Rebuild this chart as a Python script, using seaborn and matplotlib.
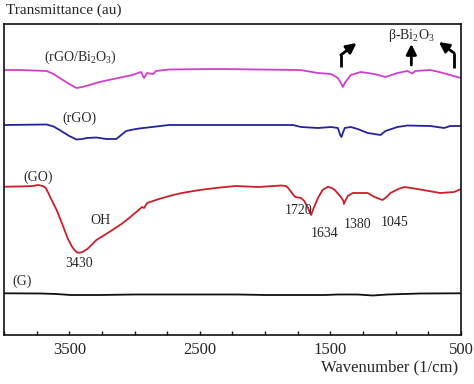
import numpy as np
import pandas as pd
import matplotlib
matplotlib.use("Agg")
import matplotlib.pyplot as plt
import seaborn as sns
from matplotlib.ticker import MultipleLocator, FixedLocator

# spectra (wavenumber, arbitrary transmittance)
wn_g = [4000, 3719, 3600, 3490, 3262, 3010, 2204, 1999, 1542, 1443, 1291, 1177, 1063, 812, 500]
t_g = [41.7, 41.5, 41.0, 40.0, 40.0, 40.5, 40.5, 40.0, 40.0, 40.5, 40.5, 39.5, 40.5, 41.5, 41.7]

wn_go = [4000, 3878, 3779, 3741, 3703, 3680, 3660, 3635, 3597, 3551, 3510, 3482, 3460,
         3440, 3420, 3400, 3380, 3361, 3330, 3292, 3230, 3170, 3100, 3041, 2942, 2927,
         2904, 2813, 2720, 2638, 2500, 2379, 2227, 2052, 1877, 1840, 1824, 1800, 1770,
         1745, 1725, 1700, 1671, 1648, 1625, 1595, 1560, 1519, 1490, 1466, 1420, 1400,
         1397, 1390, 1367, 1329, 1215, 1162, 1101, 1070, 1040, 980, 933, 834, 659, 553, 500]
t_go = [148.3, 148.5, 149, 150, 149, 147, 142, 135, 125, 110, 96, 89, 85,
        82.5, 82.3, 83, 84.5, 86, 90, 95, 100, 105, 111, 117, 128, 127,
        132, 136, 139.5, 142, 145, 147, 149, 148, 149.5, 149, 147, 143, 138,
        137.5, 137, 134, 127, 120, 128, 137, 145, 148.3, 147, 145, 138, 134,
        131, 133, 139, 142, 142, 138, 135, 138, 142, 146, 148, 146, 142, 143, 146]

wn_rgo = [4000, 3673, 3620, 3574, 3500, 3444, 3400, 3368, 3292, 3216, 3140, 3102, 3064,
          3010, 2965, 2866, 2737, 1786, 1725, 1595, 1496, 1443, 1425, 1415, 1405, 1390,
          1344, 1291, 1215, 1162, 1116, 1078, 987, 910, 735, 629, 583, 500]
t_rgo = [210, 210.5, 208.5, 205, 199, 195.5, 196, 197, 197.5, 196, 196, 200, 204,
         205.5, 206.5, 208, 210, 210, 208, 207, 208, 207, 200, 198, 202, 207,
         208, 206, 202, 201, 200, 204, 208, 209.5, 209, 207, 209, 209]

wn_bi = [4000, 3878, 3673, 3620, 3574, 3500, 3444, 3400, 3345, 3269, 3018, 2950, 2927,
         2904, 2858, 2836, 2737, 2356, 2052, 1732, 1595, 1496, 1443, 1420, 1405, 1390,
         1367, 1344, 1268, 1162, 1078, 987, 910, 872, 850, 735, 667, 583, 500]
t_bi = [265, 265, 264, 261, 257, 251, 247, 248, 250, 253, 260, 263, 257,
        262, 261, 264, 265.5, 266, 265.5, 265, 262, 261, 257, 252, 248, 252,
        256, 260, 263, 261, 258, 262, 264, 261.5, 264, 265, 263, 260, 257]

names = ["(G)", "(GO)", "(rGO)", "(rGO/Bi2O3)"]
colors = ["#111111", "#C8202A", "#23239E", "#CF3FCF"]

df = pd.concat([
    pd.DataFrame({"wn": wn_g, "t": t_g, "sample": names[0]}),
    pd.DataFrame({"wn": wn_go, "t": t_go, "sample": names[1]}),
    pd.DataFrame({"wn": wn_rgo, "t": t_rgo, "sample": names[2]}),
    pd.DataFrame({"wn": wn_bi, "t": t_bi, "sample": names[3]}),
])

sns.set_style("ticks")
plt.rcParams["font.family"] = ["Liberation Serif", "DejaVu Serif"]
plt.rcParams["mathtext.fontset"] = "custom"
plt.rcParams["mathtext.rm"] = "Liberation Serif"
plt.rcParams["mathtext.it"] = "Liberation Serif:italic"

fig = plt.figure(figsize=(4.74, 3.84), dpi=100)
ax = fig.add_axes([0.0084, 0.1276, 0.9641, 0.8099])

sns.lineplot(data=df, x="wn", y="t", hue="sample", palette=dict(zip(names, colors)),
             sort=False, estimator=None, linewidth=1.3, legend=False, ax=ax)

ax.set_xlim(4000, 500)
ax.set_ylim(0, 311)
ax.set_xlabel("")
ax.set_ylabel("")
ax.set_yticks([])
ax.xaxis.set_major_locator(FixedLocator([3500, 2500, 1500, 500]))
ax.xaxis.set_minor_locator(MultipleLocator(250))
ax.tick_params(axis="x", which="both", direction="in", length=3, width=1,
               labelsize=12, pad=5, color="#111111")
for s in ax.spines.values():
    s.set_linewidth(1.2)
    s.set_color("#111111")

fig.text(0.012, 0.974, "Transmittance (au)", fontsize=11, ha="left", va="center")
fig.text(0.966, 0.042, "Wavenumber (1/cm)", fontsize=12, ha="right", va="center")

# curve labels
lab = dict(fontsize=10, ha="center", va="center")
ax.text(3417, 278, "(rGO/Bi$_2$O$_3$)", **lab)
ax.text(3422, 217, "(rGO)", **lab)
ax.text(3741, 158, "(GO)", **lab)
ax.text(3863, 54, "(G)", **lab)
ax.text(3262, 115, "OH", **lab)
ax.text(3422, 72, "3430", **lab)
ax.text(1740, 125, "1720", **lab)
ax.text(1542, 102, "1634", **lab)
ax.text(1291, 111, "1380", **lab)
ax.text(1010, 113, "1045", **lab)
ax.text(880, 300, "β-Bi$_2$O$_3$", **lab)

# beta-Bi2O3 marker arrows
arrow = dict(arrowstyle="-|>,head_length=0.6,head_width=0.3", color="black", lw=2,
             shrinkA=0, shrinkB=0)
ax.plot([1420, 1420], [268, 280], color="black", lw=2, solid_capstyle="butt")
ax.annotate("", xy=(1300, 292), xytext=(1420, 280), arrowprops=arrow)
ax.annotate("", xy=(880, 291), xytext=(880, 270), arrowprops=arrow)
ax.plot([553, 553], [267, 282], color="black", lw=2, solid_capstyle="butt")
ax.annotate("", xy=(670, 293), xytext=(553, 282), arrowprops=arrow)

fig.savefig("out.png", dpi=100)
